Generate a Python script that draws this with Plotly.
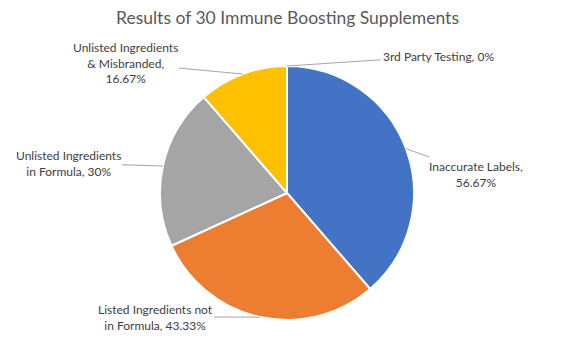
import math
import plotly.graph_objects as go

# ---- data ----
categories = ["Inaccurate Labels", "Listed Ingredients not in Formula",
              "Unlisted Ingredients in Formula", "Unlisted Ingredients & Misbranded",
              "3rd Party Testing"]
values = [56.67, 43.33, 30, 16.67, 0]
label_texts = ["Inaccurate Labels,<br>56.67%",
               "Listed Ingredients not<br>in Formula, 43.33%",
               "Unlisted Ingredients<br>in Formula, 30%",
               "Unlisted Ingredients<br>&amp; Misbranded,<br>16.67%",
               "3rd Party Testing, 0%"]
colors = ["#4472C4", "#ED7D31", "#A5A5A5", "#FFC000", "#5B9BD5"]

# ---- layout constants (pixels, in reference-image coordinates) ----
OFF = 8                      # page body margin in the browser
W, H = 575 - 2 * OFF, 356 - 2 * OFF
CX, CY, R = 287 - OFF, 193 - OFF, 127
label_pos = [(476, 174), (155, 317), (68, 163), (125, 63), (438, 56)]
label_pos = [(x - OFF, y - OFF) for x, y in label_pos]

FONT = "Lato"

fig = go.Figure(go.Pie(
    labels=categories, values=values, sort=False, direction="clockwise",
    rotation=0, textinfo="none", hoverinfo="label+value",
    marker=dict(colors=colors, line=dict(color="white", width=2)),
    domain=dict(x=[(CX - R) / W, (CX + R) / W], y=[1 - (CY + R) / H, 1 - (CY - R) / H]),
    showlegend=False,
))

total = sum(values)
cum = 0.0
annotations = []
for v, txt, (tx, ty) in zip(values, label_texts, label_pos):
    mid = (cum + v / 2) / total * 2 * math.pi
    cum += v
    px = CX + R * math.sin(mid)
    py = CY - R * math.cos(mid)
    annotations.append(dict(
        x=px / W, y=1 - py / H, xref="paper", yref="paper",
        text=txt, showarrow=True, arrowhead=0, arrowwidth=1, arrowcolor="#A6A6A6",
        ax=tx - px, ay=ty - py, standoff=0,
        font=dict(family=FONT, size=12, color="#404040"), align="center",
    ))

fig.update_layout(
    width=W, height=H, margin=dict(l=0, r=0, t=0, b=0),
    paper_bgcolor="white", plot_bgcolor="white",
    title=dict(text="Results of 30 Immune Boosting Supplements", x=0.5, xanchor="center",
               y=1 - (18 - OFF) / H, yanchor="middle",
               font=dict(family=FONT, size=17.5, color="#595959")),
    annotations=annotations,
)
fig.write_html("out.html")
